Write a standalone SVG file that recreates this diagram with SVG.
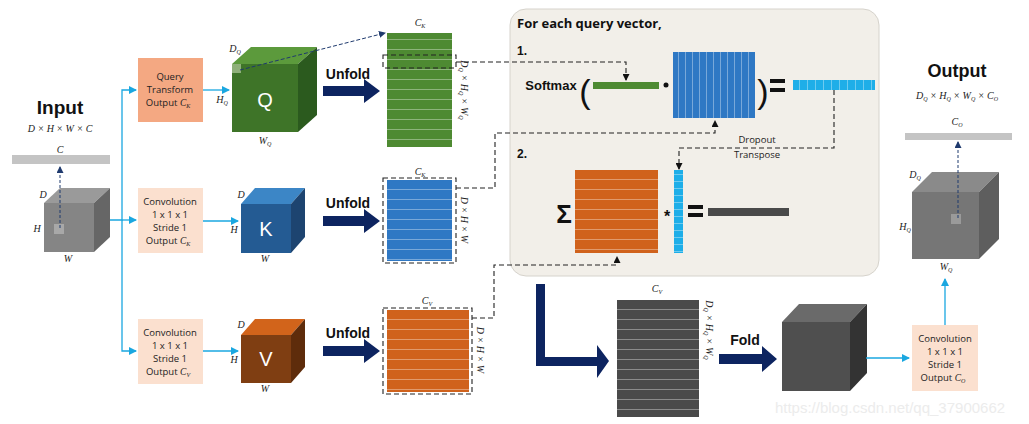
<svg xmlns="http://www.w3.org/2000/svg" width="1029" height="424" viewBox="0 0 1029 424">
<style>
.m{font-family:"Liberation Serif",serif;font-style:italic;font-size:10px;fill:#222;text-anchor:middle}
.b{font-family:"Liberation Sans",sans-serif;font-weight:bold;fill:#111;text-anchor:middle}
.s{font-family:"Open Sans","Liberation Sans",sans-serif;font-size:9.5px;fill:#222;text-anchor:middle}
.cy{stroke:#1aa7e0;stroke-width:1.3;fill:none}
.dash{stroke:#222;stroke-width:1.1;fill:none;stroke-dasharray:5,3}
.big{fill:#0d2460}
</style>
<defs>
<marker id="ac" markerWidth="8" markerHeight="8" refX="7" refY="4" orient="auto" markerUnits="userSpaceOnUse"><path d="M0,0 L8,4 L0,8 Z" fill="#1aa7e0"/></marker>
<marker id="ak" markerWidth="7" markerHeight="7" refX="6" refY="3.5" orient="auto" markerUnits="userSpaceOnUse"><path d="M0,0 L7,3.5 L0,7 Z" fill="#111"/></marker>
<marker id="an" markerWidth="7" markerHeight="7" refX="6" refY="3.5" orient="auto" markerUnits="userSpaceOnUse"><path d="M0,0 L7,3.5 L0,7 Z" fill="#1f3a6e"/></marker>
<pattern id="hs" width="10" height="10" patternUnits="userSpaceOnUse"><line x1="0" y1="9.5" x2="10" y2="9.5" stroke="#fff" stroke-opacity="0.45" stroke-width="0.8"/></pattern>
<pattern id="vs" width="7" height="10" patternUnits="userSpaceOnUse"><line x1="6.5" y1="0" x2="6.5" y2="10" stroke="#fff" stroke-opacity="0.45" stroke-width="0.8"/></pattern>
<pattern id="cs" width="8" height="10" patternUnits="userSpaceOnUse"><line x1="7.5" y1="0" x2="7.5" y2="10" stroke="#fff" stroke-opacity="0.6" stroke-width="0.6"/></pattern>
<pattern id="cv" width="10" height="7" patternUnits="userSpaceOnUse"><line x1="0" y1="6.5" x2="10" y2="6.5" stroke="#fff" stroke-opacity="0.6" stroke-width="0.6"/></pattern>
</defs>
<rect width="1029" height="424" fill="#fff"/>
<rect x="510" y="9" width="369" height="267" rx="16" fill="#f2efe9" stroke="#d6d3cc"/>

<g id="input">
<text class="b" x="60" y="114" font-size="19">Input</text>
<text class="m" x="60" y="132">D × H × W × C</text>
<text class="m" x="60" y="153">C</text>
<rect x="12" y="155" width="98" height="9" fill="#c4c4c4"/>
<path d="M44,203 L60,188 L110,188 L94,203Z" fill="#9a9a9a"/>
<path d="M94,203 L110,188 L110,237 L94,252Z" fill="#666"/>
<rect x="44" y="203" width="50" height="49" fill="#858585"/>
<rect x="54" y="224" width="10" height="10" fill="#a8a8a8"/>
<line x1="60" y1="228" x2="60" y2="167" stroke="#1f3a6e" stroke-dasharray="3,2" marker-end="url(#an)"/>
<text class="m" x="43" y="198">D</text><text class="m" x="37" y="232">H</text><text class="m" x="68" y="262">W</text>
</g>

<g id="qbox"><rect x="138" y="58" width="65" height="64" fill="#f4a882"/>
<text class="s" x="170" y="80">Query</text><text class="s" x="170" y="93">Transform</text><text class="s" x="168" y="106">Output <tspan font-family="Liberation Serif" font-style="italic">C<tspan font-size="6" dy="2">K</tspan></tspan></text></g>
<g id="kbox"><rect x="138" y="188" width="65" height="65" fill="#fbe0cf"/>
<text class="s" x="170" y="205">Convolution</text><text class="s" x="170" y="218">1 x 1 x 1</text><text class="s" x="170" y="231">Stride 1</text><text class="s" x="168" y="244">Output <tspan font-family="Liberation Serif" font-style="italic">C<tspan font-size="6" dy="2">K</tspan></tspan></text></g>
<g id="vbox"><rect x="138" y="319" width="65" height="65" fill="#fbe0cf"/>
<text class="s" x="170" y="336">Convolution</text><text class="s" x="170" y="349">1 x 1 x 1</text><text class="s" x="170" y="362">Stride 1</text><text class="s" x="168" y="375">Output <tspan font-family="Liberation Serif" font-style="italic">C<tspan font-size="6" dy="2">V</tspan></tspan></text></g>

<g id="qcube">
<path d="M232,64 L251,47 L317,47 L298,64Z" fill="#5c9a3c"/>
<path d="M298,64 L317,47 L317,115 L298,132Z" fill="#2b5a1e"/>
<rect x="232" y="64" width="66" height="68" fill="#3e7428"/>
<rect x="232" y="64" width="9" height="9" fill="#8fb07a"/>
<text x="265" y="107" font-family="Liberation Sans,sans-serif" font-size="20" fill="#fff" text-anchor="middle">Q</text>
<text class="m" x="235" y="52">D<tspan font-size="6" dy="2">Q</tspan></text><text class="m" x="222" y="103">H<tspan font-size="6" dy="2">Q</tspan></text><text class="m" x="265" y="144">W<tspan font-size="6" dy="2">Q</tspan></text>
</g>
<g id="kcube">
<path d="M241,204 L255,188 L305,188 L291,204Z" fill="#3c86c6"/>
<path d="M291,204 L305,188 L305,237 L291,253Z" fill="#1d4470"/>
<rect x="241" y="204" width="50" height="49" fill="#245b93"/>
<text x="266" y="236" font-family="Liberation Sans,sans-serif" font-size="20" fill="#fff" text-anchor="middle">K</text>
<text class="m" x="241" y="198">D</text><text class="m" x="234" y="233">H</text><text class="m" x="265" y="262">W</text>
</g>
<g id="vcube">
<path d="M241,335 L255,319 L305,319 L291,335Z" fill="#d2641b"/>
<path d="M291,335 L305,319 L305,367 L291,383Z" fill="#5e2c0b"/>
<rect x="241" y="335" width="50" height="48" fill="#7f3e12"/>
<text x="266" y="366" font-family="Liberation Sans,sans-serif" font-size="20" fill="#fff" text-anchor="middle">V</text>
<text class="m" x="241" y="328">D</text><text class="m" x="234" y="363">H</text><text class="m" x="265" y="392">W</text>
</g>

<g id="unfolds">
<text class="b" x="348" y="79" font-size="14">Unfold</text>
<path class="big" d="M323,86 H364 V79 L380,91 L364,103 V96 H323Z"/>
<text class="b" x="348" y="208" font-size="14">Unfold</text>
<path class="big" d="M323,216 H364 V209 L380,221 L364,233 V226 H323Z"/>
<text class="b" x="348" y="338" font-size="14">Unfold</text>
<path class="big" d="M323,346 H364 V339 L380,351 L364,363 V356 H323Z"/>
</g>

<g id="qmat">
<rect x="387" y="33" width="65" height="114" fill="#4e8a32"/><rect x="387" y="33" width="65" height="114" fill="url(#hs)"/>
<text class="m" x="420" y="26">C<tspan font-size="6" dy="2">K</tspan></text>
<rect x="383" y="55" width="73" height="13" class="dash"/>
<text class="m" transform="translate(461,90) rotate(90)">D<tspan font-size="6" dy="2">Q</tspan><tspan dy="-2"> × H</tspan><tspan font-size="6" dy="2">Q</tspan><tspan dy="-2"> × W</tspan><tspan font-size="6" dy="2">Q</tspan></text>
</g>
<g id="kmat">
<rect x="387" y="180" width="65" height="81" fill="#2f78c4"/><rect x="387" y="180" width="65" height="81" fill="url(#hs)"/>
<rect x="383" y="178" width="73" height="85" class="dash"/>
<text class="m" x="420" y="175">C<tspan font-size="6" dy="2">K</tspan></text>
<text class="m" transform="translate(461,220) rotate(90)">D × H × W</text>
</g>
<g id="vmat">
<rect x="387" y="310" width="82" height="82" fill="#d0621c"/><rect x="387" y="310" width="82" height="82" fill="url(#hs)"/>
<rect x="383" y="308" width="89" height="86" class="dash"/>
<text class="m" x="427" y="304">C<tspan font-size="6" dy="2">V</tspan></text>
<text class="m" transform="translate(477,350) rotate(90)">D × H × W</text>
</g>

<g id="panel">
<text x="517" y="28" font-family="Open Sans,Liberation Sans,sans-serif" font-weight="bold" font-size="13" fill="#111">For each query vector,</text>
<text x="517" y="55" font-family="Liberation Sans,sans-serif" font-weight="bold" font-size="12" fill="#111">1.</text>
<text x="517" y="158" font-family="Liberation Sans,sans-serif" font-weight="bold" font-size="12" fill="#111">2.</text>
<text x="551" y="90" class="b" font-size="13">Softmax</text>
<text x="585" y="103" font-family="Liberation Sans,sans-serif" font-size="34" fill="#111" text-anchor="middle">(</text>
<rect x="593" y="82" width="66" height="7" fill="#4e8a32"/>
<circle cx="666" cy="85" r="2.5" fill="#111"/>
<rect x="673" y="52" width="82" height="66" fill="#2f78c4"/><rect x="673" y="52" width="82" height="66" fill="url(#vs)"/>
<text x="763" y="103" font-family="Liberation Sans,sans-serif" font-size="34" fill="#111" text-anchor="middle">)</text>
<rect x="770" y="79" width="15" height="4" fill="#111"/><rect x="770" y="88" width="15" height="4" fill="#111"/>
<rect x="793" y="80" width="82" height="10" fill="#1eaee8"/><rect x="793" y="80" width="82" height="10" fill="url(#cs)"/>
<text class="s" x="757" y="143" font-size="10">Dropout</text>
<text class="s" x="757" y="158" font-size="10">Transpose</text>
<text x="564" y="223" class="b" font-size="26" font-weight="normal">Σ</text>
<rect x="575" y="170" width="83" height="83" fill="#d0621c"/><rect x="575" y="170" width="83" height="83" fill="url(#hs)"/>
<text x="667" y="222" class="b" font-size="16">*</text>
<rect x="674" y="170" width="9" height="83" fill="#1eaee8"/><rect x="674" y="170" width="9" height="83" fill="url(#cv)"/>
<rect x="688" y="205" width="15" height="4" fill="#111"/><rect x="688" y="213" width="15" height="4" fill="#111"/>
<rect x="708" y="208" width="81" height="8" fill="#4a4a4a"/>
</g>

<g id="omat">
<path class="big" d="M536,284 H545 V357 H597 V345 L609,361 L597,378 V366 H536Z"/>
<rect x="617" y="300" width="82" height="117" fill="#4a4a4a"/><rect x="617" y="300" width="82" height="117" fill="url(#hs)"/>
<text class="m" x="657" y="292">C<tspan font-size="6" dy="2">V</tspan></text>
<text class="m" transform="translate(706,330) rotate(90)">D<tspan font-size="6" dy="2">Q</tspan><tspan dy="-2"> × H</tspan><tspan font-size="6" dy="2">Q</tspan><tspan dy="-2"> × W</tspan><tspan font-size="6" dy="2">Q</tspan></text>
</g>
<g id="fold">
<text class="b" x="745" y="345" font-size="14">Fold</text>
<path class="big" d="M719,354 H762 V346 L777,359 L762,372 V364 H719Z"/>
</g>
<g id="dcube">
<path d="M782,322 L799,304 L867,304 L850,322Z" fill="#6a6a6a"/>
<path d="M850,322 L867,304 L867,373 L850,391Z" fill="#333"/>
<rect x="782" y="322" width="68" height="69" fill="#4f4f4f"/>
</g>
<g id="obox"><rect x="912" y="325" width="66" height="66" fill="#fbe0cf"/>
<text class="s" x="945" y="342">Convolution</text><text class="s" x="945" y="355">1 x 1 x 1</text><text class="s" x="945" y="368">Stride 1</text><text class="s" x="943" y="381">Output <tspan font-family="Liberation Serif" font-style="italic">C<tspan font-size="6" dy="2">O</tspan></tspan></text></g>
<g id="output">
<text class="b" x="957" y="77" font-size="18">Output</text>
<text class="m" x="957" y="99" font-size="9">D<tspan font-size="6" dy="2">Q</tspan><tspan dy="-2"> × H</tspan><tspan font-size="6" dy="2">Q</tspan><tspan dy="-2"> × W</tspan><tspan font-size="6" dy="2">Q</tspan><tspan dy="-2"> × C</tspan><tspan font-size="6" dy="2">O</tspan></text>
<text class="m" x="957" y="125">C<tspan font-size="6" dy="2">O</tspan></text>
<rect x="905" y="133" width="107" height="7" fill="#c4c4c4"/>
<path d="M912,192 L932,172 L999,172 L979,192Z" fill="#8a8a8a"/>
<path d="M979,192 L999,172 L999,239 L979,259Z" fill="#5e5e5e"/>
<rect x="912" y="192" width="67" height="67" fill="#767676"/>
<rect x="951" y="214" width="10" height="10" fill="#9a9a9a"/>
<line x1="958" y1="218" x2="958" y2="142" stroke="#1f3a6e" stroke-dasharray="3,2" marker-end="url(#an)"/>
<text class="m" x="915" y="178">D<tspan font-size="6" dy="2">Q</tspan></text><text class="m" x="905" y="230">H<tspan font-size="6" dy="2">Q</tspan></text><text class="m" x="946" y="270">W<tspan font-size="6" dy="2">Q</tspan></text>
</g>

<g id="connectors">
<path class="cy" d="M110,220 H122 V90 H136" marker-end="url(#ac)"/>
<path class="cy" d="M122,220 H136" marker-end="url(#ac)"/>
<path class="cy" d="M122,220 V351 H136" marker-end="url(#ac)"/>
<path class="cy" d="M203,90 H229" marker-end="url(#ac)"/>
<path class="cy" d="M203,221 H238" marker-end="url(#ac)"/>
<path class="cy" d="M203,351 H238" marker-end="url(#ac)"/>
<path class="cy" d="M866,358 H909" marker-end="url(#ac)"/>
<path class="cy" d="M945,325 V279" marker-end="url(#ac)"/>
<path d="M240,70 L385,33" stroke="#1f3a6e" stroke-dasharray="4,2" fill="none" marker-end="url(#an)"/>
<path class="dash" d="M456,62 H626 V80" marker-end="url(#ak)"/>
<path class="dash" d="M456,188 H495 V133 H715 V121" marker-end="url(#ak)"/>
<path class="dash" d="M472,318 H494 V265 H617 V257" marker-end="url(#ak)"/>
<path class="dash" d="M834,90 V148 H679 V169" marker-end="url(#ak)"/>
</g>
<text x="890" y="413" font-family="Liberation Sans,sans-serif" font-size="15" fill="#ececec" text-anchor="middle">https://blog.csdn.net/qq_37900662</text>
</svg>
